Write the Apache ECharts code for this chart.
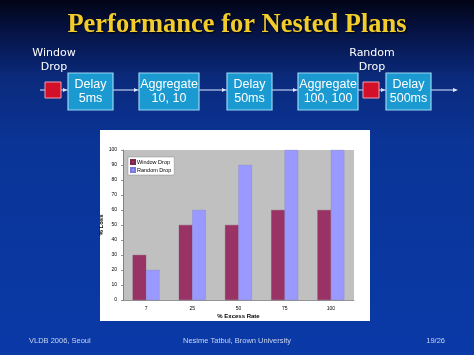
<!DOCTYPE html>
<html>
<head>
<meta charset="utf-8">
<script src="https://cdn.jsdelivr.net/npm/echarts@6/dist/echarts.min.js"></script>
<style>html,body{margin:0;padding:0;background:#0a3aa8;}#c{width:474px;height:355px;}</style>
</head>
<body>
<div id="c"></div>
<script>
var categories = ['7', '25', '50', '75', '100'];
var windowDrop = [30, 50, 50, 60, 60];
var randomDrop = [20, 60, 90, 100, 100];
var seriesNames = ['Window Drop', 'Random Drop'];
var yTicks = [0, 10, 20, 30, 40, 50, 60, 70, 80, 90, 100];
var pipeline = [
  {type: 'drop', label: ['Window', 'Drop']},
  {type: 'op', label: ['Delay', '5ms']},
  {type: 'op', label: ['Aggregate', '10, 10']},
  {type: 'op', label: ['Delay', '50ms']},
  {type: 'op', label: ['Aggregate', '100, 100']},
  {type: 'drop', label: ['Random', 'Drop']},
  {type: 'op', label: ['Delay', '500ms']}
];

var chart = echarts.init(document.getElementById('c'));

// decoration layout
var boxX = [null, 68, 139, 227, 298, null, 386];
var boxW = [null, 45, 60, 45, 60, null, 45];
var dropX = [45, null, null, null, null, 363, null];
var g = [];
g.push({type: 'rect', z: -10, shape: {x: 0, y: 0, width: 474, height: 355},
  style: {fill: new echarts.graphic.LinearGradient(0, 0, 0, 1, [
    {offset: 0, color: '#020416'}, {offset: 0.1, color: '#06154a'},
    {offset: 0.22, color: '#0a2a7c'}, {offset: 0.4, color: '#0a3496'},
    {offset: 1, color: '#0a3aa8'}])}});
g.push({type: 'text', style: {text: 'Performance for Nested Plans', x: 237, y: 25,
  align: 'center', verticalAlign: 'middle', fill: '#f2cc2a',
  font: 'bold 26.5px "Liberation Serif", serif', textShadowColor: '#000', textShadowBlur: 2, textShadowOffsetX: 1, textShadowOffsetY: 1}});
// arrow line
g.push({type: 'line', shape: {x1: 40, y1: 90, x2: 456, y2: 90}, style: {stroke: '#dfe8ff', lineWidth: 1}});
g.push({type: 'polygon', shape: {points: [[458, 90], [453, 88], [453, 92]]}, style: {fill: '#dfe8ff'}});
var arrowTips = [68, 139, 227, 298, 386];
arrowTips.forEach(function (x) {
  g.push({type: 'polygon', shape: {points: [[x - 1, 90], [x - 5, 88], [x - 5, 92]]}, style: {fill: '#dfe8ff'}});
});
pipeline.forEach(function (p, i) {
  if (p.type === 'op') {
    g.push({type: 'rect', shape: {x: boxX[i], y: 73, width: boxW[i], height: 37},
      style: {fill: '#1b9ad2', stroke: '#9ad6f2', lineWidth: 1.2}});
    g.push({type: 'text', style: {text: p.label[0] + '\n' + p.label[1], x: boxX[i] + boxW[i] / 2, y: 91.5,
      align: 'center', verticalAlign: 'middle', fill: '#ffffff', lineHeight: 14,
      font: '12.5px "Liberation Sans", Arial, sans-serif'}});
  } else {
    g.push({type: 'rect', shape: {x: dropX[i], y: 82, width: 16, height: 16},
      style: {fill: '#d3102a', stroke: '#f0a0b0', lineWidth: 1}});
    g.push({type: 'text', style: {text: p.label[0] + '\n' + p.label[1], x: dropX[i] + 9, y: 60,
      align: 'center', verticalAlign: 'middle', fill: '#ffffff', lineHeight: 14.5,
      font: '11px "DejaVu Sans", sans-serif'}});
  }
});
// chart white panel
g.push({type: 'rect', z: -5, shape: {x: 100, y: 130, width: 270, height: 191}, style: {fill: '#ffffff'}});
// footer
g.push({type: 'text', style: {text: 'VLDB 2006, Seoul', x: 29, y: 341, verticalAlign: 'middle', fill: '#c8d2ee', font: '7.5px "Liberation Sans", Arial, sans-serif'}});
g.push({type: 'text', style: {text: 'Nesime Tatbul, Brown University', x: 237, y: 341, align: 'center', verticalAlign: 'middle', fill: '#c8d2ee', font: '7.5px "Liberation Sans", Arial, sans-serif'}});
g.push({type: 'text', style: {text: '19/26', x: 445, y: 341, align: 'right', verticalAlign: 'middle', fill: '#c8d2ee', font: '7.5px "Liberation Sans", Arial, sans-serif'}});

chart.setOption({
  animation: false,
  graphic: g,
  grid: {left: 123, right: 120, top: 150, bottom: 55, show: true, backgroundColor: '#c0c0c0', borderWidth: 0},
  legend: {
    data: seriesNames, left: 128, top: 157, orient: 'vertical', itemWidth: 4, itemHeight: 4, itemGap: 2,
    icon: 'rect', backgroundColor: '#ffffff', borderColor: '#888', borderWidth: 0.5, padding: [2, 3, 2, 2],
    textStyle: {fontSize: 5.5, color: '#000', fontFamily: 'Liberation Sans, Arial', padding: [0, 0, 0, -3]}
  },
  xAxis: {
    type: 'category', data: categories,
    name: '% Excess Rate', nameLocation: 'middle', nameGap: 13,
    nameTextStyle: {fontSize: 6, fontWeight: 'bold', color: '#000', fontFamily: 'Liberation Sans, Arial'},
    axisLine: {lineStyle: {color: '#666', width: 0.7}},
    axisTick: {length: 2, lineStyle: {color: '#666', width: 0.7}},
    axisLabel: {fontSize: 5, color: '#000', margin: 6, fontFamily: 'Liberation Sans, Arial'}
  },
  yAxis: {
    type: 'value', min: 0, max: 100, interval: 10,
    name: '% Loss', nameLocation: 'middle', nameGap: 16, nameRotate: 90,
    nameTextStyle: {fontSize: 6, fontWeight: 'bold', color: '#000', fontFamily: 'Liberation Sans, Arial'},
    axisLine: {show: true, lineStyle: {color: '#666', width: 0.7}},
    axisTick: {show: true, length: 2, lineStyle: {color: '#666', width: 0.7}},
    splitLine: {show: false},
    axisLabel: {fontSize: 5, color: '#000', margin: 6, fontFamily: 'Liberation Sans, Arial',
      formatter: function (v) { return yTicks.indexOf(v) >= 0 ? String(v) : ''; }}
  },
  series: [
    {name: seriesNames[0], type: 'bar', data: windowDrop, barGap: '0%', barCategoryGap: '42%',
      itemStyle: {color: '#993366', borderColor: '#7a2850', borderWidth: 0.3}},
    {name: seriesNames[1], type: 'bar', data: randomDrop, barGap: '0%', barCategoryGap: '42%',
      itemStyle: {color: '#9999ff', borderColor: '#7777dd', borderWidth: 0.3}}
  ]
});
</script>
</body>
</html>
